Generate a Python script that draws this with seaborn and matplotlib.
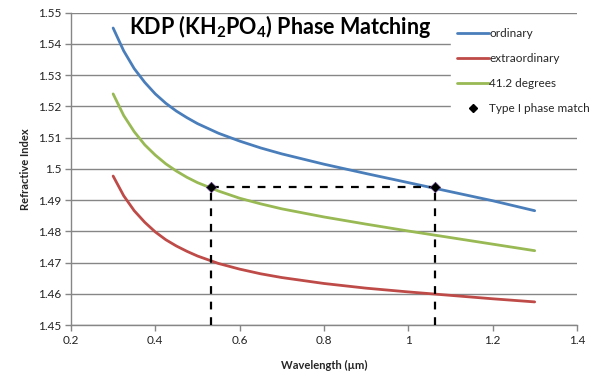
import numpy as np
import pandas as pd
import matplotlib
matplotlib.use("Agg")
import matplotlib.pyplot as plt
import seaborn as sns
from matplotlib.lines import Line2D

# ---------- Data ----------
wavelength = [0.300, 0.325, 0.350, 0.375, 0.400, 0.425, 0.450, 0.475, 0.50, 0.55,
              0.60, 0.65, 0.70, 0.80, 0.90, 1.00, 1.10, 1.20, 1.30]
n_ordinary = [1.5451, 1.5378, 1.5321, 1.5277, 1.5240, 1.5210, 1.5185, 1.5164, 1.5145, 1.5114,
              1.5089, 1.5067, 1.5048, 1.5015, 1.4985, 1.4956, 1.4927, 1.4898, 1.4866]
n_extraordinary = [1.4977, 1.4914, 1.4866, 1.4829, 1.4798, 1.4773, 1.4753, 1.4736, 1.4721, 1.4697,
                   1.4679, 1.4664, 1.4652, 1.4633, 1.4618, 1.4606, 1.4595, 1.4584, 1.4574]
n_412deg = [1.5240, 1.5171, 1.5119, 1.5077, 1.5044, 1.5016, 1.4993, 1.4973, 1.4956, 1.4929,
            1.4906, 1.4888, 1.4872, 1.4846, 1.4823, 1.4801, 1.4780, 1.4759, 1.4738]

series_names = ["ordinary", "extraordinary", "41.2 degrees"]
series_colors = ["#4A7EBB", "#BE4B48", "#98B954"]

match_wavelength = [0.532, 1.064]
match_index = [1.4941, 1.4941]

df = pd.DataFrame({
    "Wavelength": wavelength * 3,
    "Index": n_ordinary + n_extraordinary + n_412deg,
    "Series": sum([[s] * len(wavelength) for s in series_names], []),
})

# ---------- Style ----------
sns.set_theme(style="white")
plt.rcParams["font.family"] = ["Lato", "DejaVu Sans"]
plt.rcParams["mathtext.fontset"] = "custom"
plt.rcParams["mathtext.rm"] = "Lato"
plt.rcParams["mathtext.bf"] = "Lato:bold"

grid_c = "#868686"

fig = plt.figure(figsize=(5.99, 3.76), dpi=100)
ax = fig.add_axes([0.1185, 0.1356, 0.8445, 0.8306])

sns.lineplot(data=df, x="Wavelength", y="Index", hue="Series",
             palette=dict(zip(series_names, series_colors)),
             linewidth=2.0, ax=ax, legend=False)

# dashed guide lines for phase match
ax.plot(match_wavelength, match_index, color="black", linestyle=(0, (3.5, 3.5)), lw=1.6, zorder=4)
for xw, yi in zip(match_wavelength, match_index):
    ax.plot([xw, xw], [1.45, yi], color="black", linestyle=(0, (3.5, 3.5)), lw=1.6, zorder=4)
sns.scatterplot(x=match_wavelength, y=match_index, marker="D", color="black",
                s=28, edgecolor="#5a3a7a", linewidth=0.5, ax=ax, zorder=5)

ax.set_xlim(0.2, 1.4)
ax.set_ylim(1.45, 1.55)
ax.set_xticks([0.2, 0.4, 0.6, 0.8, 1.0, 1.2, 1.4])
ax.set_xticklabels(["0.2", "0.4", "0.6", "0.8", "1", "1.2", "1.4"])
ax.set_yticks([1.45, 1.46, 1.47, 1.48, 1.49, 1.5, 1.51, 1.52, 1.53, 1.54, 1.55])
ax.set_yticklabels(["1.45", "1.46", "1.47", "1.48", "1.49", "1.5", "1.51",
                    "1.52", "1.53", "1.54", "1.55"])

ax.yaxis.grid(True, color=grid_c, linewidth=1.0)
ax.xaxis.grid(False)
ax.set_axisbelow(True)
for side in ["top", "right"]:
    ax.spines[side].set_visible(False)
for side in ["left", "bottom"]:
    ax.spines[side].set_color(grid_c)
    ax.spines[side].set_linewidth(1.0)
ax.tick_params(axis="both", which="major", direction="out", length=4, width=1,
               color=grid_c, labelsize=8.5, labelcolor="#222222", pad=3,
               left=True, bottom=True)

ax.set_xlabel("Wavelength (µm)", fontsize=8, fontweight="bold", labelpad=10)
ax.set_ylabel("Refractive Index", fontsize=8, fontweight="bold", labelpad=5)

ax.text(0.413, 0.955, r"KDP (KH$_\mathbf{2}$PO$_\mathbf{4}$) Phase Matching",
        transform=ax.transAxes, ha="center", va="center",
        fontsize=15.5, fontweight="bold", color="black")

handles = [Line2D([0], [0], color=c, lw=2.0) for c in series_colors]
handles.append(Line2D([0], [0], color="black", marker="D", linestyle="none", markersize=4.5))
labels = series_names + ["Type I phase match"]
leg = ax.legend(handles, labels, loc="upper left", bbox_to_anchor=(0.752, 0.97),
                frameon=True, fontsize=8.5, handlelength=2.7, handletextpad=0.0,
                labelspacing=1.2, borderpad=0.5, borderaxespad=0.0)
leg.get_frame().set_facecolor("white")
leg.get_frame().set_edgecolor("white")
leg.get_frame().set_alpha(1.0)

fig.savefig("out.png", dpi=100)
